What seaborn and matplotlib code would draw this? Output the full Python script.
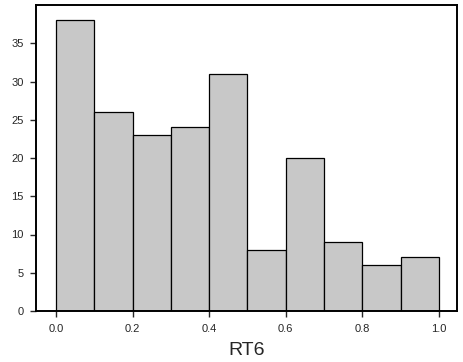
import numpy as np
import pandas as pd
import seaborn as sns
import matplotlib
matplotlib.use('Agg')
import matplotlib.pyplot as plt

# Гистограмма RT6: границы интервалов и частоты
bin_edges = [0.0, 0.1, 0.2, 0.3, 0.4, 0.5, 0.6, 0.7, 0.8, 0.9, 1.0]
counts = [38, 26, 23, 24, 31, 8, 20, 9, 6, 7]

centers = [(a + b) / 2 for a, b in zip(bin_edges[:-1], bin_edges[1:])]
df = pd.DataFrame({'RT6': centers, 'n': counts})

sns.set_style('ticks')
plt.rcParams['font.family'] = ['Liberation Sans', 'DejaVu Sans']

fig = plt.figure(figsize=(4.63, 3.62), dpi=100)
ax = fig.add_axes([36 / 463, 1 - 311 / 362, 421 / 463, 306 / 362])

sns.histplot(data=df, x='RT6', weights='n', bins=bin_edges,
             color='#c8c8c8', edgecolor='black', linewidth=0.9,
             alpha=1, ax=ax)

ax.set_xlim(-0.052, 1.047)
ax.set_ylim(0, 40)
ax.set_xticks([0.0, 0.2, 0.4, 0.6, 0.8, 1.0])
ax.set_xticklabels(['0.0', '0.2', '0.4', '0.6', '0.8', '1.0'])
ax.set_yticks(range(0, 40, 5))
ax.tick_params(labelsize=8, length=4, width=1, direction='out', pad=5)
ax.set_xlabel('RT6', fontsize=14, labelpad=6)
ax.set_ylabel('')
for s in ax.spines.values():
    s.set_linewidth(1.4)
    s.set_color('black')

fig.savefig('out.png', dpi=100)
